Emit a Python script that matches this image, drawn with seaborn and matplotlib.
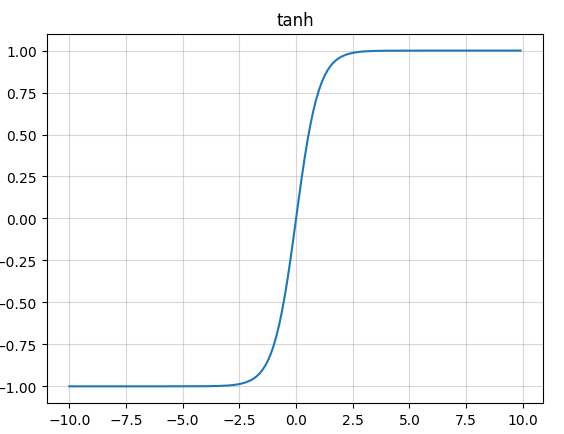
import numpy as np
import pandas as pd
import matplotlib
matplotlib.use("Agg")
import matplotlib.pyplot as plt
import seaborn as sns

# values (denser where it is steep)
x_vals = [-10.0, -6.0, -4.0, -3.5, -3.0, -2.75, -2.5, -2.25, -2.0, -1.875, -1.75,
          -1.625, -1.5, -1.375, -1.25, -1.125, -1.0, -0.875, -0.75, -0.625, -0.5,
          -0.375, -0.25, -0.125, 0.0, 0.125, 0.25, 0.375, 0.5, 0.625, 0.75, 0.875,
          1.0, 1.125, 1.25, 1.375, 1.5, 1.625, 1.75, 1.875, 2.0, 2.25, 2.5, 2.75,
          3.0, 3.5, 4.0, 6.0, 9.9]
y_vals = [-1.0, -1.0, -0.9993, -0.9982, -0.9951, -0.9919, -0.9866, -0.978, -0.964,
          -0.954, -0.9414, -0.9258, -0.9051, -0.88, -0.8483, -0.8096, -0.7616,
          -0.7042, -0.6351, -0.5546, -0.4621, -0.3584, -0.2449, -0.1244, 0.0,
          0.1244, 0.2449, 0.3584, 0.4621, 0.5546, 0.6351, 0.7042, 0.7616, 0.8096,
          0.8483, 0.88, 0.9051, 0.9258, 0.9414, 0.954, 0.964, 0.978, 0.9866,
          0.9919, 0.9951, 0.9982, 0.9993, 1.0, 1.0]

df = pd.DataFrame({"x": x_vals, "y": y_vals})

fig, ax = plt.subplots(figsize=(5.64, 4.35), dpi=100)
sns.lineplot(data=df, x="x", y="y", color="#1f77b4", linewidth=1.5, ax=ax)
ax.set_title("tanh")
ax.set_xlabel("")
ax.set_ylabel("")
ax.set_xticks(np.arange(-10, 10.1, 2.5))
ax.set_yticks(np.arange(-1, 1.01, 0.25))
ax.grid(True, alpha=0.5)
fig.subplots_adjust(left=0.083, right=0.963, top=0.92, bottom=0.071)
fig.savefig("out.png", dpi=100)
plt.close(fig)
